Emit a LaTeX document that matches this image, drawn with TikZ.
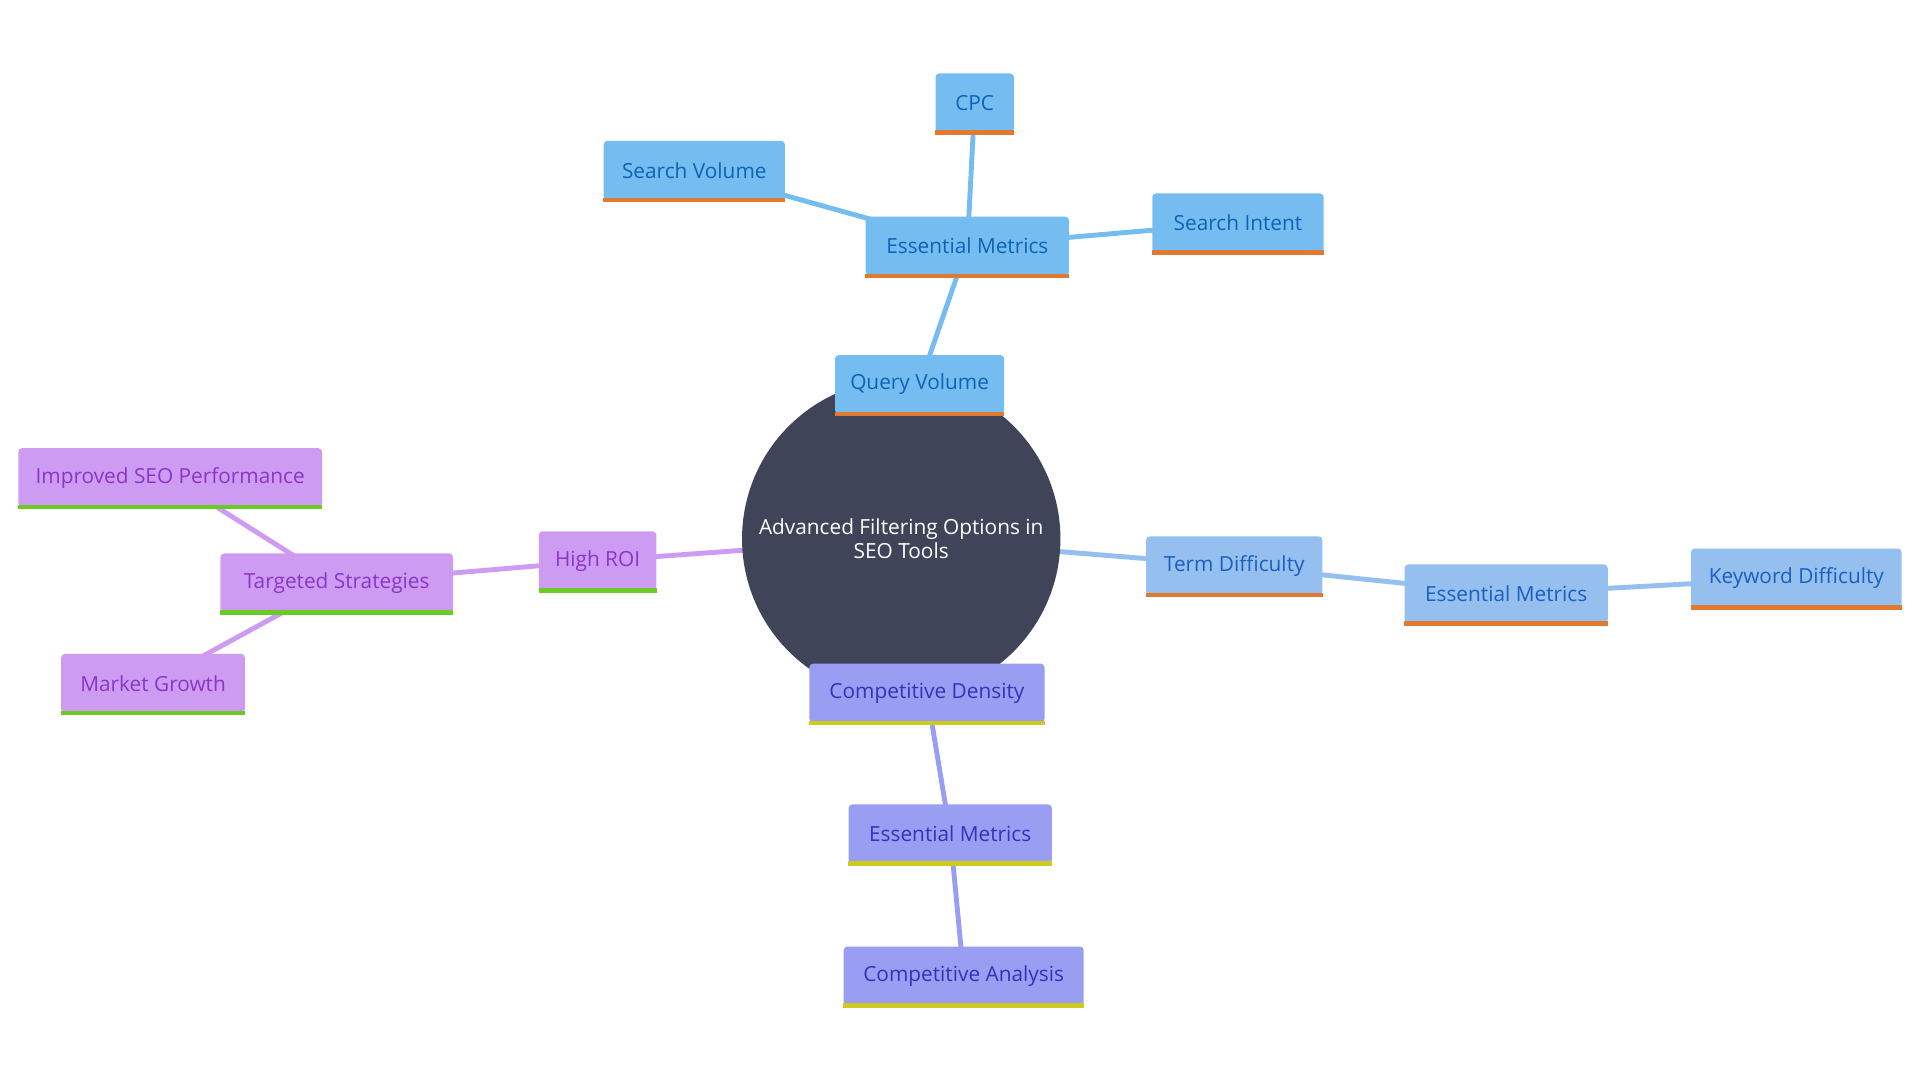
\documentclass[tikz,border=0pt]{standalone}
\usepackage{fontspec}
\setmainfont{Open Sans}
\usetikzlibrary{backgrounds}
\definecolor{hubfill}{HTML}{404459}
\definecolor{bluefill}{HTML}{75BDF0}
\definecolor{bluetext}{HTML}{0E63B5}
\definecolor{skyfill}{HTML}{94BFEE}
\definecolor{skytext}{HTML}{1B5FC0}
\definecolor{violetfill}{HTML}{9A9EF2}
\definecolor{violettext}{HTML}{3333B8}
\definecolor{purplefill}{HTML}{CD9BF2}
\definecolor{purpletext}{HTML}{8A35C8}
\definecolor{orangeline}{HTML}{E07A30}
\definecolor{yellowline}{HTML}{CFCB1E}
\definecolor{greenline}{HTML}{6CCB22}

\tikzset{
  box/.style={rectangle, rounded corners=3pt, minimum height=48pt,
    inner xsep=0pt, font=\fontsize{17}{20}\selectfont},
  bluebox/.style={box, fill=bluefill, text=bluetext},
  skybox/.style={box, fill=skyfill, text=skytext},
  violetbox/.style={box, fill=violetfill, text=violettext},
  purplebox/.style={box, fill=purplefill, text=purpletext},
  link/.style={line width=4pt},
  base/.style={line width=3.5pt}
}

% leaf: name, x, y, width, style, underline colour, text
\newcommand{\leaf}[7]{%
  \node[#5, minimum width=#4pt] (#1) at (#2,#3) {#7};
  \draw[base, #6] (#1.south west) -- (#1.south east);
}

\begin{document}
\begin{tikzpicture}[x=1pt,y=-1pt]
  \useasboundingbox (0,0) rectangle (1568,882);

  % hub
  \node[circle, fill=hubfill, minimum size=260pt, text=white, align=center,
    font=\fontsize{17}{20}\selectfont] (hub) at (736,440)
    {Advanced Filtering Options in\\SEO Tools};

  % query volume branch
  \leaf{query}{751}{314}{138}{bluebox}{orangeline}{Query Volume}
  \leaf{metricsA}{790}{201}{166}{bluebox}{orangeline}{Essential Metrics}
  \leaf{volume}{567}{139}{148}{bluebox}{orangeline}{Search Volume}
  \leaf{cpc}{796}{84}{64}{bluebox}{orangeline}{CPC}
  \leaf{intent}{1011}{182}{140}{bluebox}{orangeline}{Search Intent}

  % term difficulty branch
  \leaf{term}{1008}{462}{144}{skybox}{orangeline}{Term Difficulty}
  \leaf{metricsB}{1230}{485}{166}{skybox}{orangeline}{Essential Metrics}
  \leaf{keyword}{1467}{472}{172}{skybox}{orangeline}{Keyword Difficulty}

  % competitive density branch
  \leaf{density}{757}{566}{192}{violetbox}{yellowline}{Competitive Density}
  \leaf{metricsC}{776}{681}{166}{violetbox}{yellowline}{Essential Metrics}
  \leaf{analysis}{787}{797}{196}{violetbox}{yellowline}{Competitive Analysis}

  % roi branch
  \leaf{roi}{488}{458}{96}{purplebox}{greenline}{High ROI}
  \leaf{strategies}{275}{476}{190}{purplebox}{greenline}{Targeted Strategies}
  \leaf{improved}{139}{390}{248}{purplebox}{greenline}{Improved SEO Performance}
  \leaf{growth}{125}{558}{150}{purplebox}{greenline}{Market Growth}

  \begin{scope}[on background layer]
    \draw[link, bluefill] (hub) -- (query);
    \draw[link, bluefill] (query.center) -- (metricsA.center);
    \draw[link, bluefill] (metricsA.center) -- (volume.center);
    \draw[link, bluefill] (metricsA.center) -- (cpc.center);
    \draw[link, bluefill] (metricsA.center) -- (intent.center);
    \draw[link, skyfill] (hub.center) -- (term.center);
    \draw[link, skyfill] (term.center) -- (metricsB.center);
    \draw[link, skyfill] (metricsB.center) -- (keyword.center);
    \draw[link, violetfill] (density.center) -- (metricsC.center);
    \draw[link, violetfill] (metricsC.center) -- (analysis.center);
    \draw[link, purplefill] (hub.center) -- (roi.center);
    \draw[link, purplefill] (roi.center) -- (strategies.center);
    \draw[link, purplefill] (strategies.center) -- (improved.center);
    \draw[link, purplefill] (strategies.center) -- (growth.center);
  \end{scope}
\end{tikzpicture}
\end{document}
